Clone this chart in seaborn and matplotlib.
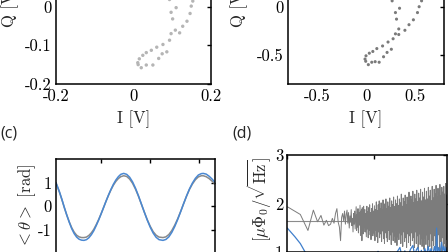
import numpy as np
import matplotlib
matplotlib.use("Agg")
import matplotlib.pyplot as plt
import seaborn as sns

sns.set_style("white")
plt.rcParams.update({
    "font.family": ["cmr10", "DejaVu Serif"],
    "mathtext.fontset": "cm",
    "axes.unicode_minus": False,
    "axes.linewidth": 1.1,
    "xtick.direction": "in",
    "ytick.direction": "in",
    "xtick.major.width": 1.0,
    "ytick.major.width": 1.0,
    "xtick.minor.width": 0.8,
    "xtick.major.size": 3.2,
    "ytick.major.size": 3.2,
    "xtick.minor.size": 1.6,
    "xtick.color": "black",
    "ytick.color": "black",
    "axes.edgecolor": "black",
})

# ---------------- data ----------------
# (a) IQ trace, small drive
a_I = [0.093, 0.153, 0.149, 0.110, 0.097, 0.146, 0.101, 0.138, 0.127, 0.108,
       0.119, 0.097, 0.093, 0.086, 0.076, 0.060, 0.074, 0.046, 0.033, 0.065,
       0.024, 0.015, 0.011, 0.020, 0.033, 0.050, 0.012]
a_Q = [0.018, 0.014, 0.001, -0.003, -0.015, -0.018, -0.032, -0.038, -0.051, -0.061,
       -0.068, -0.070, -0.087, -0.117, -0.098, -0.105, -0.122, -0.113, -0.119, -0.134,
       -0.126, -0.135, -0.145, -0.158, -0.151, -0.151, -0.150]

# (b) IQ trace, large drive
b_I = [0.268, 0.570, 0.545, 0.344, 0.302, 0.528, 0.313, 0.486, 0.441, 0.336,
       0.399, 0.302, 0.336, 0.278, 0.226, 0.260, 0.170, 0.216, 0.111, 0.070,
       0.180, 0.034, 0.000, -0.010, -0.003, 0.024, 0.059, 0.094, 0.135]
b_Q = [0.064, 0.064, 0.003, -0.013, -0.058, -0.058, -0.126, -0.133, -0.184, -0.228,
       -0.242, -0.279, -0.286, -0.330, -0.364, -0.439, -0.405, -0.472, -0.432, -0.462,
       -0.517, -0.480, -0.507, -0.541, -0.564, -0.599, -0.574, -0.568, -0.574]

a_xticks = [-0.2, 0.0, 0.2]
a_xlabels = ["-0.2", "0", "0.2"]
a_yticks = [-0.2, -0.1, 0.0, 0.1, 0.2]
a_ylabels = ["-0.2", "-0.1", "0", "0.1", "0.2"]
b_ticks = [-0.5, 0.0, 0.5]
b_labels = ["-0.5", "0", "0.5"]

# (c) mean phase vs time
c_t = [0.08, 0.15, 0.20, 0.25, 0.30, 0.35, 0.40, 0.45, 0.50, 0.55, 0.60, 0.65,
       0.70, 0.75, 0.80, 0.85, 0.90, 0.95, 1.00, 1.05, 1.10, 1.15, 1.20, 1.25,
       1.30, 1.35, 1.40, 1.46, 1.52, 1.58, 1.64, 1.70, 1.76, 1.82, 1.88, 1.94,
       2.00, 2.06, 2.12, 2.18, 2.26, 2.32, 2.38, 2.44, 2.50, 2.56, 2.62, 2.68,
       2.74, 2.80, 2.86, 2.92, 2.98, 3.04, 3.08, 3.14, 3.20, 3.26, 3.32]
c_blue = [1.00, 0.62, 0.30, -0.05, -0.38, -0.68, -0.95, -1.16, -1.31, -1.40, -1.44, -1.45,
          -1.42, -1.34, -1.21, -1.04, -0.82, -0.58, -0.32, -0.05, 0.22, 0.48, 0.72, 0.94,
          1.12, 1.26, 1.36, 1.40, 1.36, 1.24, 1.04, 0.77, 0.45, 0.10, -0.25, -0.59,
          -0.89, -1.14, -1.32, -1.42, -1.45, -1.41, -1.30, -1.11, -0.86, -0.56, -0.23, 0.11,
          0.44, 0.74, 0.99, 1.19, 1.33, 1.39, 1.40, 1.37, 1.28, 1.16, 1.02]
c_gray = [1.00, 0.60, 0.28, -0.06, -0.37, -0.66, -0.91, -1.10, -1.23, -1.30, -1.33, -1.33,
          -1.31, -1.24, -1.13, -0.98, -0.78, -0.56, -0.31, -0.05, 0.22, 0.47, 0.70, 0.90,
          1.06, 1.18, 1.26, 1.30, 1.27, 1.16, 0.98, 0.73, 0.43, 0.09, -0.25, -0.57,
          -0.85, -1.08, -1.23, -1.31, -1.33, -1.30, -1.20, -1.03, -0.80, -0.53, -0.22, 0.11,
          0.43, 0.72, 0.95, 1.13, 1.25, 1.30, 1.30, 1.26, 1.18, 1.07, 0.95]
c_yticks = [-1, 0, 1]
c_ylabels = ["-1", "0", "1"]
c_xticks = [1, 2, 3]

# (d) flux noise spectrum
d_gray_f = list(range(1, 61)) + [
    62, 64, 65, 67, 69, 70, 72, 74, 76, 78,
    80, 82, 84, 86, 88, 91, 93, 95, 98, 100,
    103, 106, 108, 111, 114, 117, 120, 123, 126, 129,
    133, 136, 140, 143, 147, 151, 155, 159, 163, 167,
    171, 176, 180, 185, 190, 195, 200, 205, 210, 216,
    221, 227, 233, 239, 245, 252, 258, 265, 272, 279,
    286, 293, 301, 309, 317, 325, 333, 342, 351, 360,
    369, 379, 389, 399, 409, 420, 431, 442, 453, 465,
    477, 490, 502, 515, 529, 543, 557, 571, 586, 601,
    617, 633, 649, 666, 684, 701, 720, 738, 758, 777,
    797, 818, 840, 861, 884, 907, 930, 955, 980, 1005,
    1031, 1058, 1086, 1114, 1143, 1173, 1203, 1235, 1267, 1300,
    1334, 1368, 1404, 1441, 1478, 1517, 1556, 1597, 1638, 1681,
    1725, 1770, 1816, 1863, 1911, 1961, 2012, 2065, 2118, 2173,
    2230, 2288, 2348, 2409, 2471, 2536, 2602, 2669, 2739, 2810,
    2883, 2958, 3035, 3114, 3195, 3279, 3364, 3451, 3541, 3633,
    3728, 3825, 3925, 4027, 4131, 4239, 4349, 4463, 4579, 4698,
    4820]
d_gray_v = [
    1.94, 1.78, 1.45, 1.87, 1.63, 1.76, 1.56, 1.66, 1.55, 1.58,
    1.70, 1.60, 1.80, 1.90, 1.62, 1.52, 1.24, 1.72, 1.80, 1.65,
    1.85, 1.58, 1.78, 1.87, 1.60, 1.82, 1.50, 1.75, 1.62, 1.88,
    1.55, 1.70, 1.42, 1.80, 1.58, 1.85, 1.48, 1.72, 1.94, 1.45,
    1.78, 1.52, 1.90, 1.40, 1.82, 1.56, 1.75, 1.97, 1.35, 1.85,
    1.50, 1.88, 1.24, 1.92, 1.45, 1.80, 1.38, 1.95, 1.42, 1.83,
    1.88, 1.42, 1.80, 1.32, 1.95, 1.48, 1.84, 1.30, 1.92, 1.45,
    1.98, 1.36, 1.82, 1.26, 1.90, 1.44, 2.00, 1.34, 1.85, 1.40,
    1.96, 1.24, 1.88, 1.46, 2.04, 1.32, 1.86, 1.20, 1.98, 1.42,
    2.06, 1.30, 1.90, 1.38, 2.02, 1.22, 1.88, 1.44, 2.08, 1.28,
    1.92, 1.18, 2.00, 1.40, 2.10, 1.30, 1.90, 1.22, 2.04, 1.45,
    1.95, 1.26, 2.12, 1.36, 1.92, 1.16, 2.06, 1.42, 1.98, 1.24,
    2.14, 1.34, 1.94, 1.20, 2.08, 1.44, 2.00, 1.14, 2.16, 1.32,
    1.96, 1.26, 2.10, 1.40, 2.02, 1.18, 2.20, 1.36, 1.95, 1.12,
    2.12, 1.42, 2.04, 1.22, 2.18, 1.30, 1.98, 1.10, 2.14, 1.38,
    2.06, 1.20, 2.24, 1.34, 2.00, 1.14, 2.16, 1.40, 2.08, 1.24,
    2.26, 1.30, 2.02, 1.10, 2.20, 1.42, 2.10, 1.18, 2.28, 1.34,
    2.04, 1.08, 2.22, 1.38, 2.12, 1.16, 2.30, 1.28, 2.06, 1.12,
    2.24, 1.40, 2.14, 1.06, 2.32, 1.30, 2.08, 1.16, 2.26, 1.36,
    2.10, 1.08, 2.34, 1.26, 2.16, 1.12, 2.28, 1.38, 2.06, 1.05,
    2.36, 1.24, 2.12, 1.14, 2.30, 1.34, 2.20, 1.04, 2.38, 1.28,
    2.14, 1.10, 2.32, 1.36, 2.22, 1.06, 2.40, 1.22, 2.16, 1.02,
    2.34, 1.30, 2.24, 1.08, 2.36, 1.18, 2.20, 1.04, 2.42, 1.26,
    2.18]
d_blue_f = [1, 1.5, 2, 2.6, 3.2, 4, 5, 7, 10, 15, 20, 30, 40, 55, 70, 90, 110, 125,
            140, 170, 200, 240, 280, 330, 400, 450, 520, 600, 700, 800, 880, 960,
            1040, 1150, 1250, 1380, 1500, 1650, 1800, 1950, 2100, 2300, 2500,
            2700, 2820, 2950, 3150, 3400, 3680, 3900, 4150, 4400, 4650, 4857]
d_blue_v = [1.50, 1.32, 1.18, 1.00, 0.90, 0.82, 0.78, 0.75, 0.74, 0.76, 0.78, 0.80,
            0.80, 0.92, 0.85, 0.95, 0.88, 1.02, 0.90, 0.97, 0.86, 1.00, 0.88, 0.98,
            1.10, 0.90, 1.03, 0.88, 1.06, 1.14, 0.92, 1.05, 1.10, 0.90, 1.04, 0.93,
            1.08, 0.95, 1.12, 0.97, 1.08, 0.94, 1.12, 0.98, 1.50, 0.96, 1.10, 1.00,
            1.21, 1.02, 1.12, 0.98, 1.10, 1.00]
d_mean = 1.64
d_yticks = [1, 2, 3]
d_ylabels = ["1", "2", "3"]

# ---------------- figure ----------------
W, H = 448, 252
fig = plt.figure(figsize=(W / 100, H / 100), dpi=100)


def add_ax(left, right, top, bottom):
    return fig.add_axes([left / W, (H - bottom) / H, (right - left) / W, (bottom - top) / H])


FS = 12.0
LAB = 12.0


def style(ax):
    ax.tick_params(which="both", top=True, right=True, labelsize=FS)
    ax.tick_params(axis="x", pad=3.2)
    ax.tick_params(axis="y", pad=3.0)
    for s in ax.spines.values():
        s.set_linewidth(1.1)
        s.set_color("black")


# (a)
axa = add_ax(56, 211, -71, 84)
sns.scatterplot(x=a_I, y=a_Q, ax=axa, s=6, color="#b5b5b5", linewidth=0, edgecolor="none")
axa.set_xlim(-0.2, 0.2)
axa.set_ylim(-0.2, 0.2)
axa.set_xticks(a_xticks)
axa.set_xticklabels(a_xlabels)
axa.set_yticks(a_yticks)
axa.set_yticklabels(a_ylabels)
style(axa)
axa.set_xlabel("I [V]", fontsize=LAB, va="center")
axa.xaxis.set_label_coords(0.5, (84 - 119) / 155)
axa.set_ylabel("Q [V]", fontsize=LAB, va="center")
axa.yaxis.set_label_coords((10 - 56) / 155, 0.5)

# (b)
axb = add_ax(288, 444, -70, 84)
sns.scatterplot(x=b_I, y=b_Q, ax=axb, s=5, color="#7a7a7a", linewidth=0, edgecolor="none")
axb.set_xlim(-0.8, 0.8)
axb.set_ylim(-0.8, 0.8)
axb.set_xticks(b_ticks)
axb.set_xticklabels(b_labels)
axb.set_yticks(b_ticks)
axb.set_yticklabels(b_labels)
style(axb)
axb.set_xlabel("I [V]", fontsize=LAB, va="center")
axb.xaxis.set_label_coords(0.5, (84 - 119) / 154)
axb.set_ylabel("Q [V]", fontsize=LAB, va="center")
axb.yaxis.set_label_coords((239 - 288) / 156, 0.5)

# (c)
axc = add_ax(56, 215, 159.3, 253.3)
sns.lineplot(x=c_t, y=c_gray, ax=axc, color="#8a8a8a", linewidth=1.1, sort=False, estimator=None)
sns.lineplot(x=c_t, y=c_blue, ax=axc, color="#4a88d2", linewidth=1.1, sort=False, estimator=None)
axc.set_xlim(0.08, 3.32)
axc.set_ylim(-2, 2)
axc.set_xticks(c_xticks)
axc.set_xticklabels([])
axc.set_yticks(c_yticks)
axc.set_yticklabels(c_ylabels)
style(axc)
axc.set_ylabel(r"$<\theta>$ [rad]", fontsize=LAB, va="center")
axc.yaxis.set_label_coords((27 - 56) / 159, 0.5)

# (d)
axd = add_ax(287.3, 447, 155.3, 252.3)
axd.axhline(d_mean, color="#8c8c8c", linewidth=0.8)
sns.lineplot(x=d_gray_f, y=d_gray_v, ax=axd, color="#7c7c7c", linewidth=0.7, sort=False, estimator=None)
sns.lineplot(x=d_blue_f, y=d_blue_v, ax=axd, color="#3f7fcc", linewidth=0.9, sort=False, estimator=None)
axd.set_xscale("log")
axd.set_xlim(1, 4900)
axd.set_ylim(1, 3)
axd.set_yticks(d_yticks)
axd.set_yticklabels(d_ylabels)
style(axd)
axd.set_ylabel(r"$[\mu\Phi_0/\sqrt{\mathrm{Hz}}]$", fontsize=LAB, va="center")
axd.yaxis.set_label_coords((259 - 287.3) / 159.7, 0.545)

for ax in (axa, axb, axc, axd):
    ax.set_facecolor("white")

# panel letters and a neighbouring panel's cut-off label
fig.text(8.5 / W, 1 - 134 / H, "(c)", fontsize=11.5, family=["Open Sans", "DejaVu Sans"], ha="center", va="center")
fig.text(241.5 / W, 1 - 134 / H, "(d)", fontsize=11.5, family=["Open Sans", "DejaVu Sans"], ha="center", va="center")
fig.text(7 / W, 1 - 247.5 / H, "[V]", fontsize=LAB, rotation=90, ha="center", va="top")

fig.savefig("out.png", dpi=100, facecolor="white")
